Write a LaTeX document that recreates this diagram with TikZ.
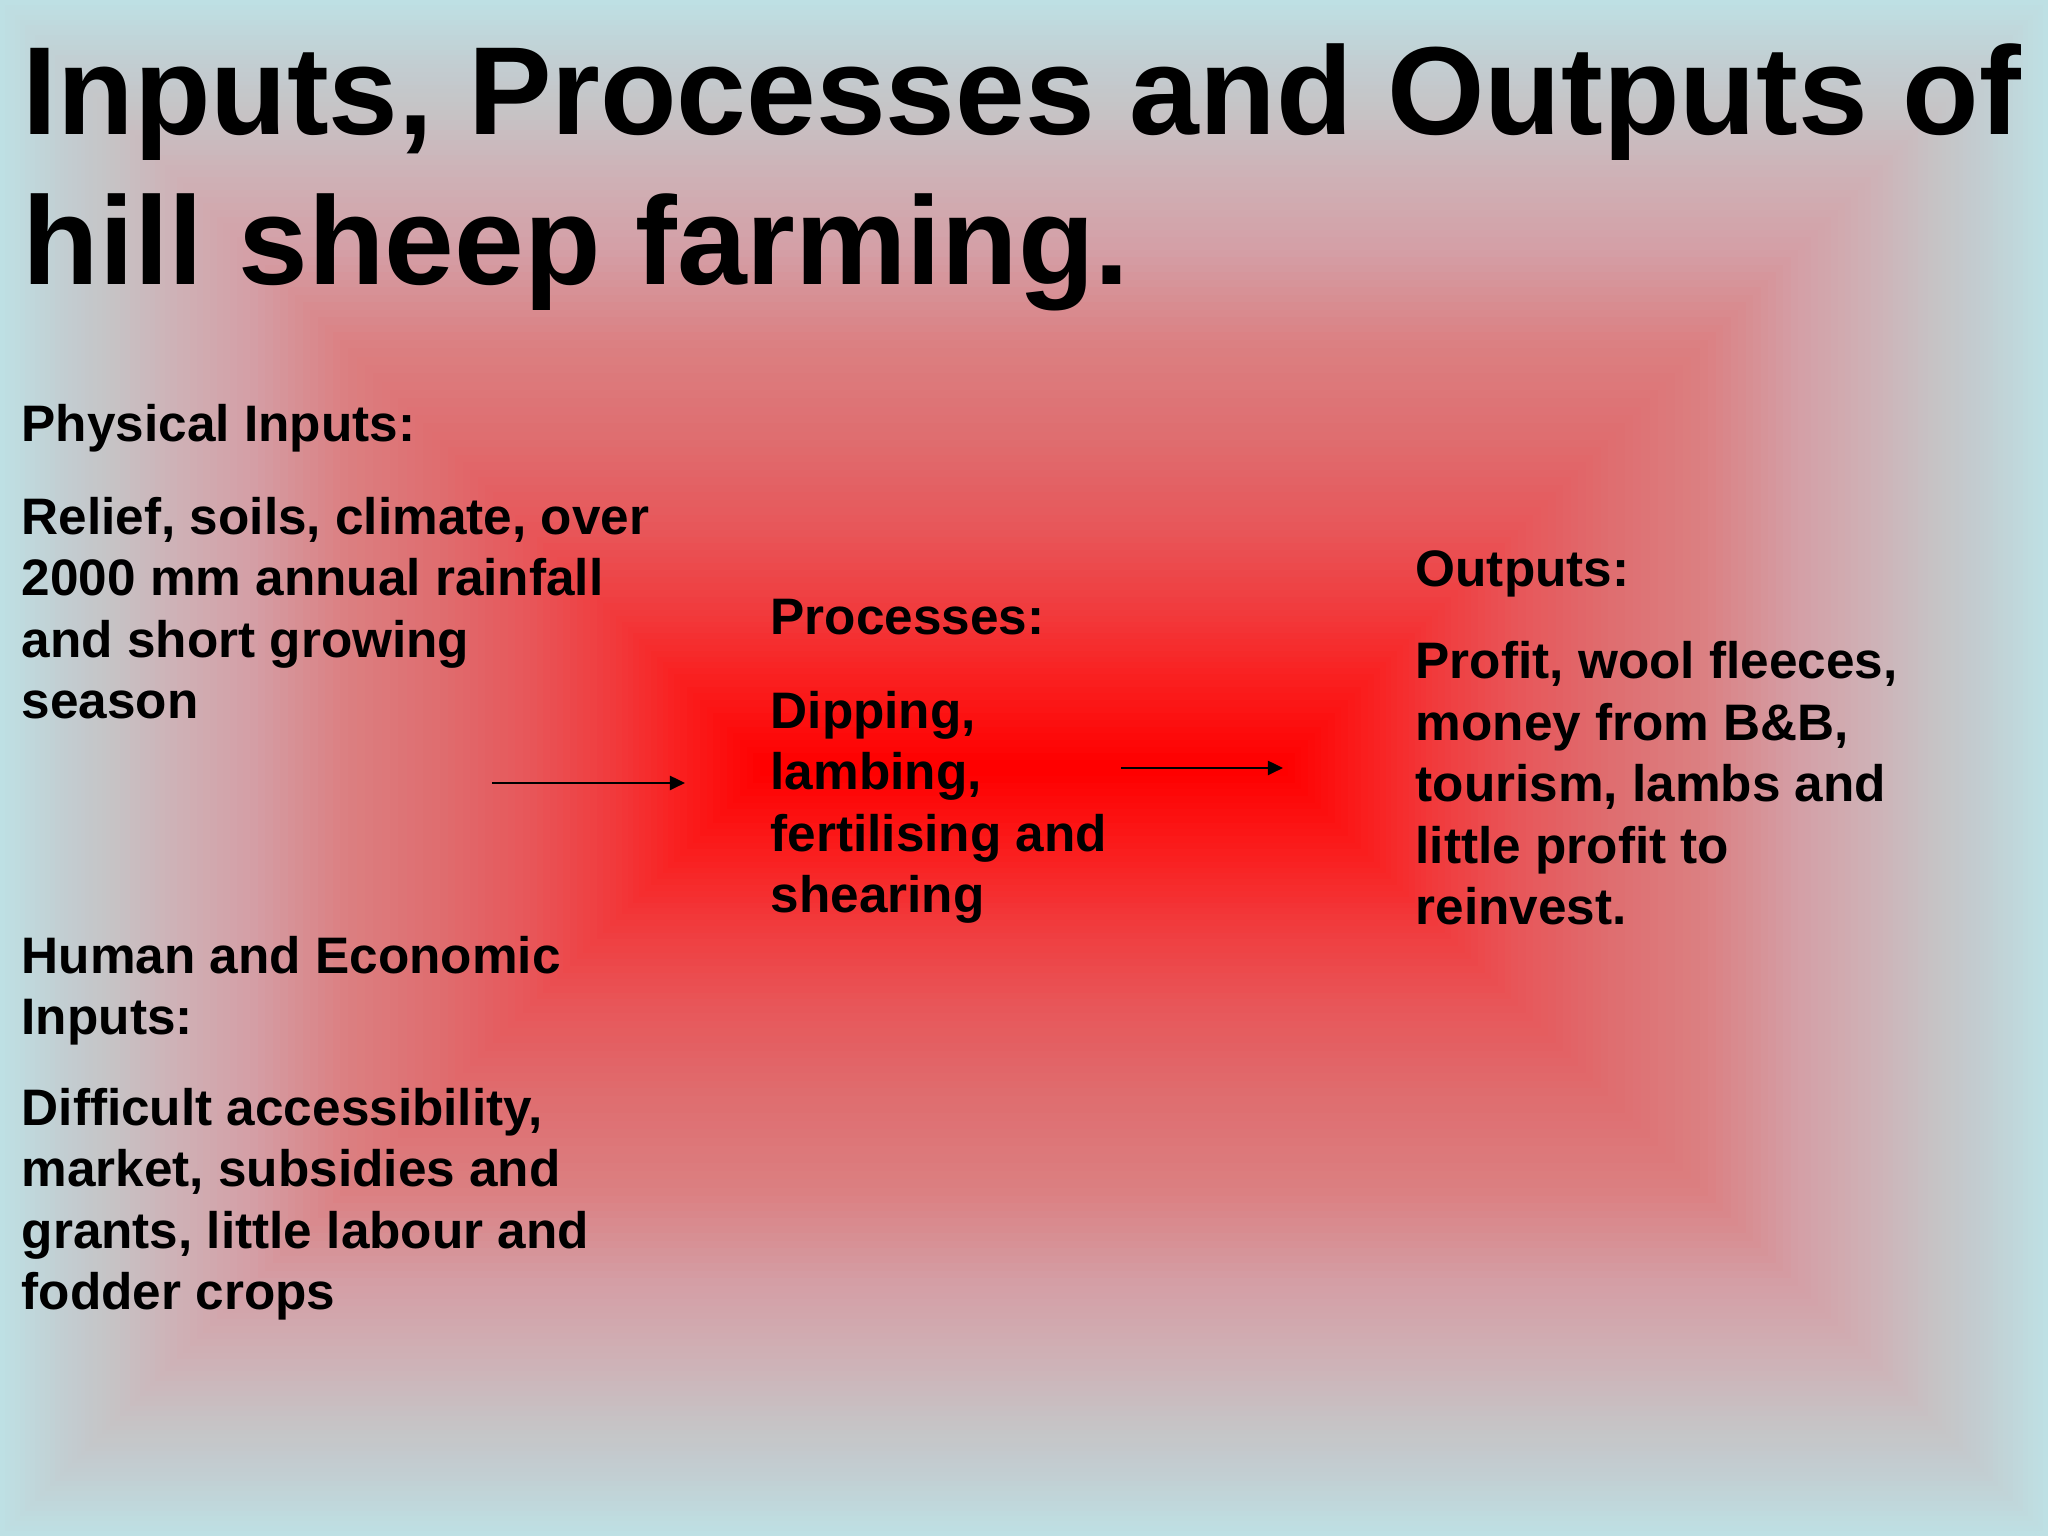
\documentclass[tikz,border=0pt]{standalone}
\usepackage{fontspec}
\setmainfont{Liberation Sans}
\usepackage{xcolor}
\usepackage{tikz}
\usetikzlibrary{arrows.meta}
\usetikzlibrary{positioning}
\definecolor{bgA}{RGB}{190,224,228}
\definecolor{bgB}{RGB}{194,206,210}
\definecolor{bgC}{RGB}{198,195,197}
\definecolor{bgD}{RGB}{206,178,183}
\definecolor{bgE}{RGB}{212,158,165}
\definecolor{bgF}{RGB}{219,128,130}
\definecolor{bgG}{RGB}{223,108,110}
\definecolor{bgH}{RGB}{232,85,88}
\definecolor{bgI}{RGB}{241,58,60}
\definecolor{bgJ}{RGB}{250,30,30}
\definecolor{bgK}{RGB}{255,0,0}
\tikzstyle{heading}=[anchor=base west,inner sep=0pt,align=left,font=\bfseries\fontsize{35.65}{42.7}\selectfont]

\begin{document}
\begin{tikzpicture}[x=1cm,y=1cm]
\tikzstyle{block}=[anchor=base west,inner sep=0pt,align=left,font=\bfseries\fontsize{14.6}{17.5}\selectfont]
\tikzstyle{flow}=[line width=0.7pt,-{Triangle[length=4.3pt,width=4pt]}]
\useasboundingbox (0,0) rectangle (20.48,15.36);
% background, rectangles shrinking towards the red middle
\foreach \da/\db/\ca/\cb in {0/60/bgA/bgB,60/110/bgB/bgC,110/170/bgC/bgD,170/250/bgD/bgE,250/340/bgE/bgF,340/440/bgF/bgG,440/530/bgG/bgH,530/610/bgH/bgI,610/680/bgI/bgJ,680/760/bgJ/bgK}{
  \foreach \k in {0,...,11}{
    \pgfmathsetmacro\dd{(\da+(\db-\da)*\k/12)/100}
    \pgfmathtruncatemacro\pc{100-100*\k/12}
    \fill[\ca!\pc!\cb] (\dd,\dd) rectangle ({20.48-\dd},{15.36-\dd});
  }
}
\fill[bgK] (7.6,7.6) rectangle (12.88,7.76);

% last baseline of each block sits at the given point
\node[heading] (title) at (0.22,12.51) {Inputs, Processes and Outputs of\\hill sheep farming.};

\node[block] (physical) at (0.21,8.17) {Physical Inputs:\\[0.31cm]Relief, soils, climate, over\\2000 mm annual rainfall\\and short growing\\season};
\node[block] (human) at (0.21,2.26) {Human and Economic\\Inputs:\\[0.29cm]Difficult accessibility,\\market, subsidies and\\grants, little labour and\\fodder crops};
\node[block] (processes) at (7.70,6.23) {Processes:\\[0.32cm]Dipping,\\lambing,\\fertilising and\\shearing};
\node[block] (outputs) at (14.15,6.11) {Outputs:\\[0.31cm]Profit, wool fleeces,\\money from B\&B,\\tourism, lambs and\\little profit to\\reinvest.};

\coordinate (in1) at (4.92,7.53);
\coordinate (in2) at (6.85,7.53);
\coordinate (out1) at (11.21,7.68);
\coordinate (out2) at (12.83,7.68);
\draw[flow] (in1) -- (in2);
\draw[flow] (out1) -- (out2);
\end{tikzpicture}
\end{document}
